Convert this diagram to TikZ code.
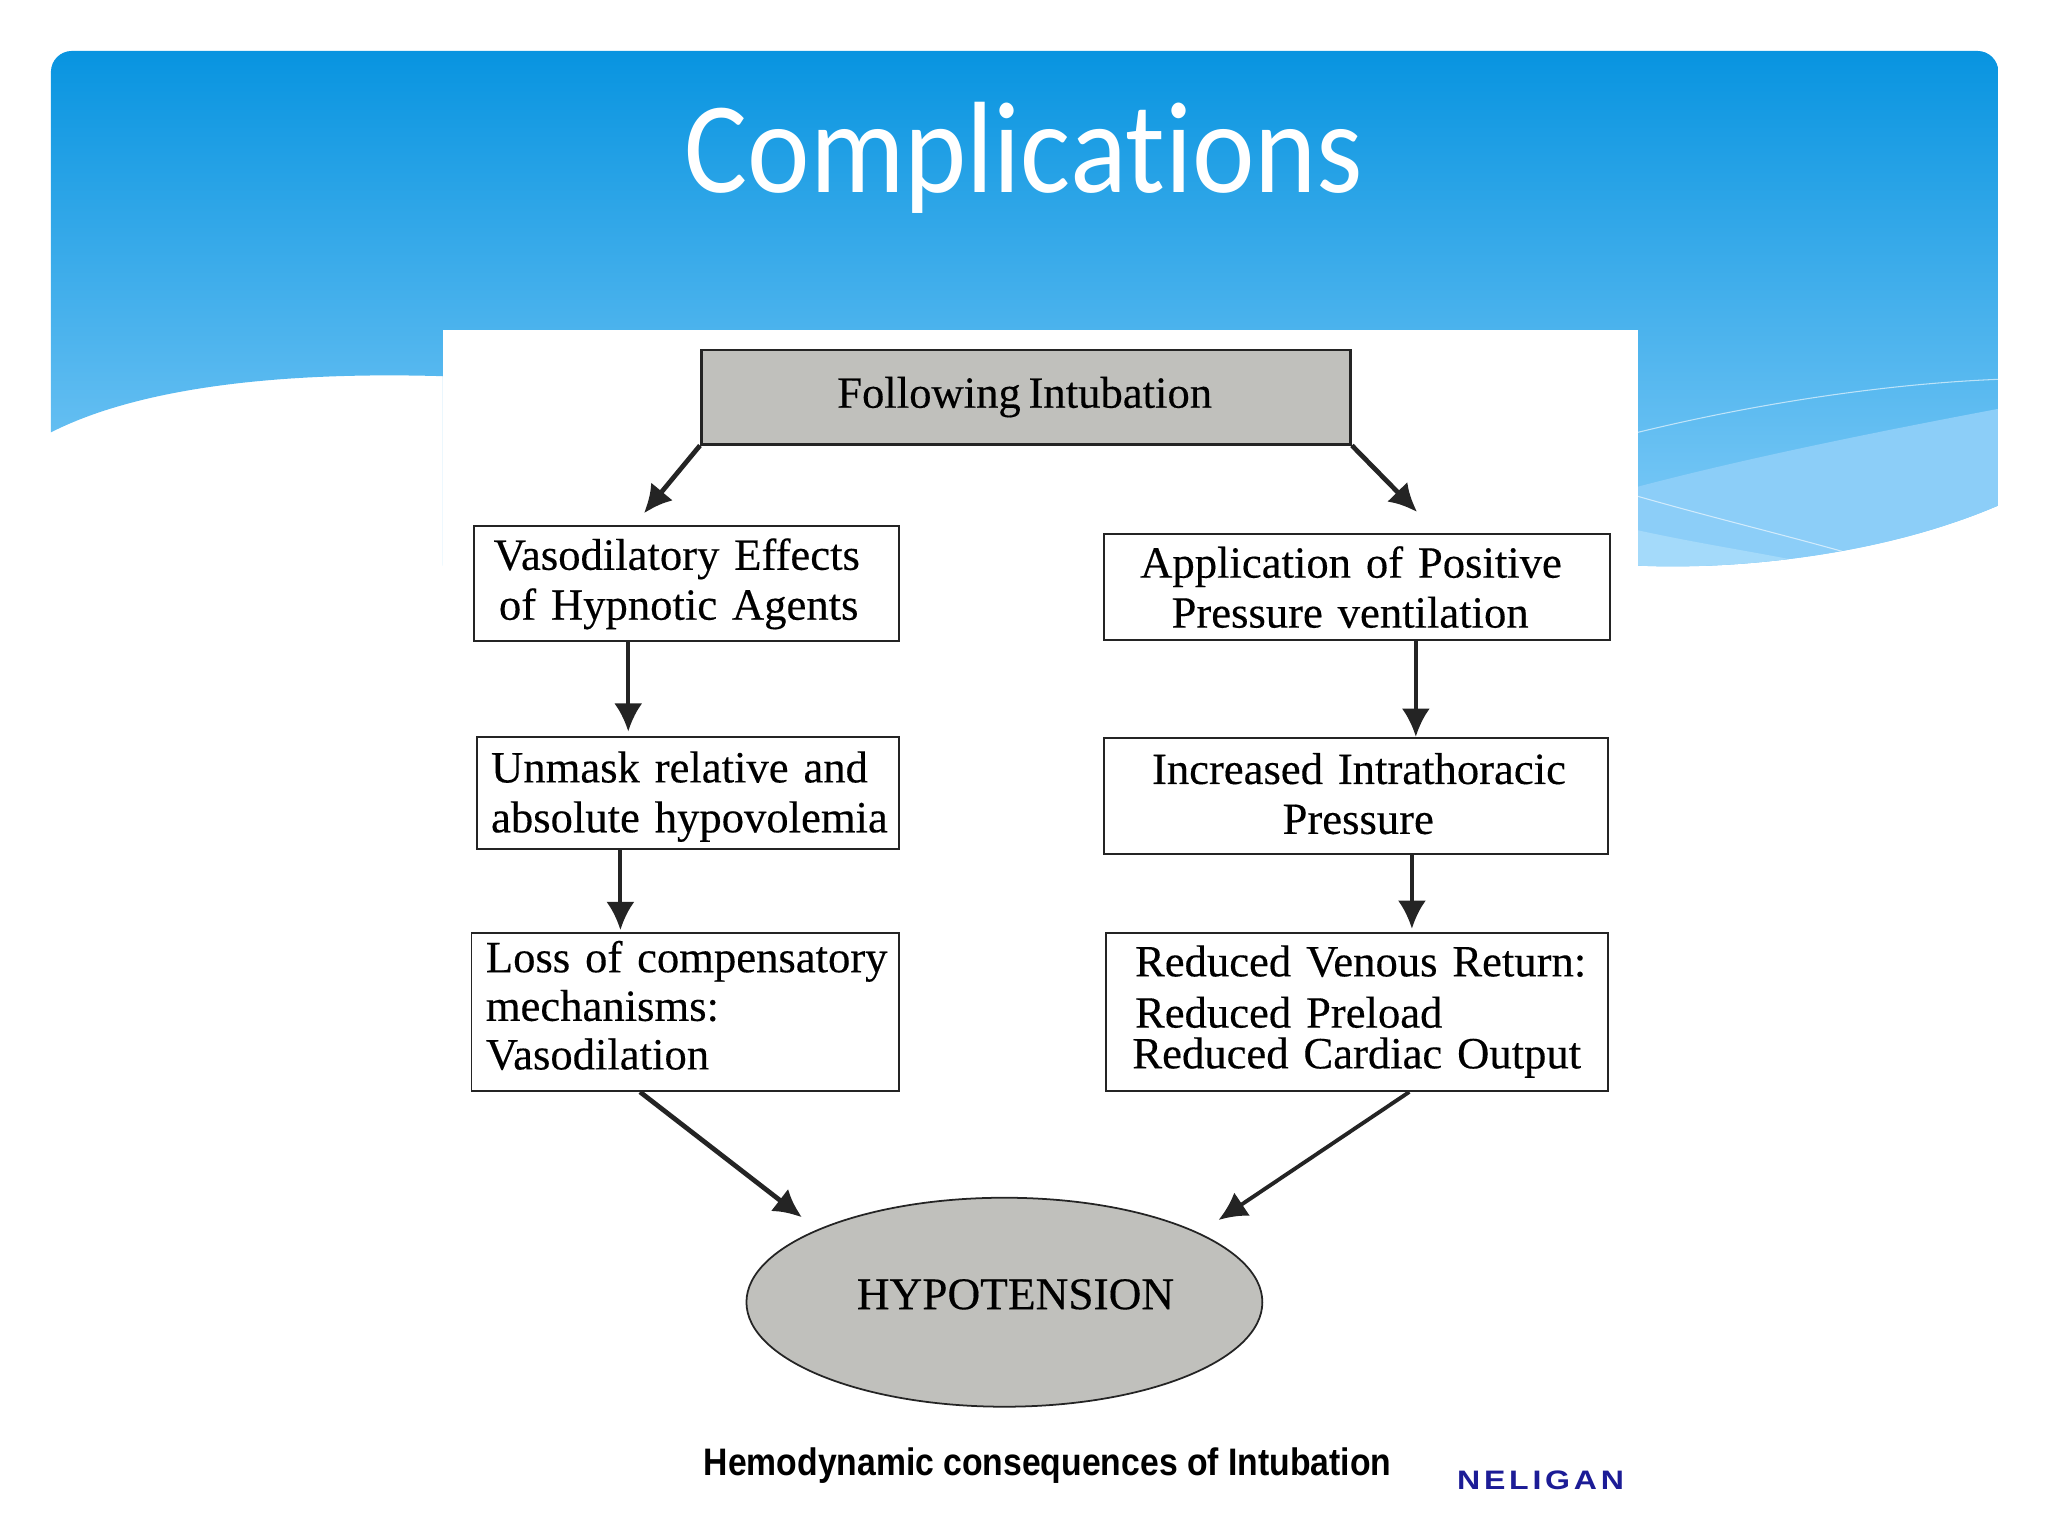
\documentclass[tikz,border=0pt]{standalone}
\usepackage{fontspec}
\setmainfont[WordSpace=0.7,FakeBold=0.3]{Liberation Serif}
\newfontfamily\titlefont[FakeStretch=0.91,Ligatures=NoCommon]{Carlito}
\newfontfamily\capfont[FakeStretch=0.88]{Liberation Sans}
\newfontfamily\logofont[LetterSpace=14,FakeStretch=1.2]{Liberation Sans}
\usetikzlibrary{arrows.meta,shapes.geometric}
\newlength\dpx
\setlength\dpx{0.3716pt}
\definecolor{boxgray}{HTML}{C0C0BC}
\definecolor{boxline}{HTML}{242424}
\definecolor{skytop}{HTML}{0894E0}
\definecolor{skylow}{HTML}{84CDF8}
\definecolor{swoosh}{HTML}{8CCEF8}
\definecolor{swooshlow}{HTML}{A4DAFA}
\definecolor{logoblue}{HTML}{1C1C96}
\tikzset{
flowbox/.style={draw=boxline, line width=0.55pt, fill=white, inner xsep=0pt, inner ysep=0pt, align=left, font=\fontsize{12.7}{14.2}\selectfont},
grayfill/.style={fill=boxgray, draw=boxline},
flow/.style={line width=1.1pt, draw=boxline, -{Latex[length=8pt,width=8pt]}},
heavyflow/.style={flow, line width=1.35pt},
}
\begin{document}
\begin{tikzpicture}[x=\dpx, y=-\dpx]
\useasboundingbox (0,0) rectangle (1568,1176);
% blue banner
\begin{scope}
\clip (39,331) .. controls (100,300) and (200,284) .. (339,288) -- (339,433) -- (1254,433)
  .. controls (1310,436) and (1430,430) .. (1530,387) -- (1530,55) arc (0:-90:16) -- (55,39) arc (-90:-180:16) -- cycle;
\shade[top color=skytop, bottom color=skylow] (39,39) rectangle (1530,433);
\fill[swoosh] (1254,372.6) .. controls (1340,350) and (1440,330) .. (1530,313) -- (1530,440) -- (1254,440) -- cycle;
\fill[swooshlow] (1254,406) .. controls (1300,416) and (1340,422) .. (1380,430) -- (1254,440) -- cycle;
\draw[white, opacity=0.6, line width=0.3pt] (1254,331) .. controls (1340,310) and (1440,294) .. (1530,290.4);
\draw[white, opacity=0.6, line width=0.3pt] (1254,380) .. controls (1310,396) and (1360,408) .. (1410,422);
\end{scope}
\node[font=\titlefont\fontsize{37}{40}\selectfont, text=white] (title) at (784,121) {Complications};
% figure
\fill[white] (339,253) rectangle (1254,1176);
\node[flowbox, grayfill, line width=0.8pt, align=center, minimum width=497*\dpx, minimum height=72*\dpx] (top) at (785.5,304) {Following Intubation\hspace*{2\dpx}};
\node[flowbox, text width=325*\dpx, minimum height=88*\dpx] (vaso) at (525.5,447) {\hspace*{15\dpx}Vasodilatory Effects\\\hspace*{19\dpx}of Hypnotic Agents};
\node[flowbox, text width=323*\dpx, minimum height=86*\dpx] (unmask) at (526.5,607) {\rule{0pt}{11pt}\hspace*{11\dpx}Unmask relative and\\\hspace*{11\dpx}absolute hypovolemia};
\node[flowbox, text width=327*\dpx, minimum height=121*\dpx] (loss) at (524.5,774.5) {\hspace*{11\dpx}Loss of compensatory\\[-1\dpx]\hspace*{11\dpx}mechanisms:\\[-1\dpx]\hspace*{11\dpx}Vasodilation\rule[-3.7pt]{0pt}{1pt}};
\node[flowbox, text width=388*\dpx, minimum height=81*\dpx] (appl) at (1039,449.5) {\hspace*{28\dpx}Application of Positive\\\hspace*{52\dpx}Pressure ventilation};
\node[flowbox, text width=386*\dpx, minimum height=89*\dpx] (incr) at (1038,609.5) {\hspace*{37\dpx}Increased Intrathoracic\\\hspace*{137\dpx}Pressure\rule[-1.5pt]{0pt}{1pt}};
\node[flowbox, text width=384*\dpx, minimum height=121*\dpx] (redu) at (1039,774.5) {\hspace*{22\dpx}Reduced Venous Return:\\[1\dpx]\hspace*{22\dpx}Reduced Preload\\[-7\dpx]\hspace*{20\dpx}Reduced Cardiac Output};
\node[ellipse, grayfill, line width=0.5pt, inner sep=0pt, minimum width=395*\dpx, minimum height=160*\dpx] (hypo) at (769,997) {};
\node[font=\fontsize{12.9}{14}\selectfont] (hypotext) at (777.5,991) {HYPOTENSION};
\node[font=\capfont\bfseries\fontsize{10.9}{12}\selectfont] (caption) at (802,1122) {Hemodynamic consequences of Intubation};
\node[font=\logofont\bfseries\fontsize{7.6}{9}\selectfont, text=logoblue] (logo) at (1179.5,1133) {NELIGAN};
% free ends of the arrows
\coordinate (tipa) at (493,393);
\coordinate (tipb) at (1085,392);
\coordinate (tipc) at (481,560);
\coordinate (tipd) at (1084,564);
\coordinate (tipe) at (475,712);
\coordinate (tipf) at (1081,711);
\coordinate (startg) at (490,836);
\coordinate (tipg) at (614,932);
\coordinate (starth) at (1079,836);
\coordinate (tiph) at (933,934);
\draw[heavyflow] (top.south west) -- (tipa);
\draw[heavyflow] (top.south east) -- (tipb);
\draw[flow] (vaso.south -| tipc) -- (tipc);
\draw[flow] (appl.south -| tipd) -- (tipd);
\draw[flow] (unmask.south -| tipe) -- (tipe);
\draw[flow] (incr.south -| tipf) -- (tipf);
\draw[heavyflow] (startg) -- (tipg);
\draw[flow] (starth) -- (tiph);
\end{tikzpicture}
\end{document}
